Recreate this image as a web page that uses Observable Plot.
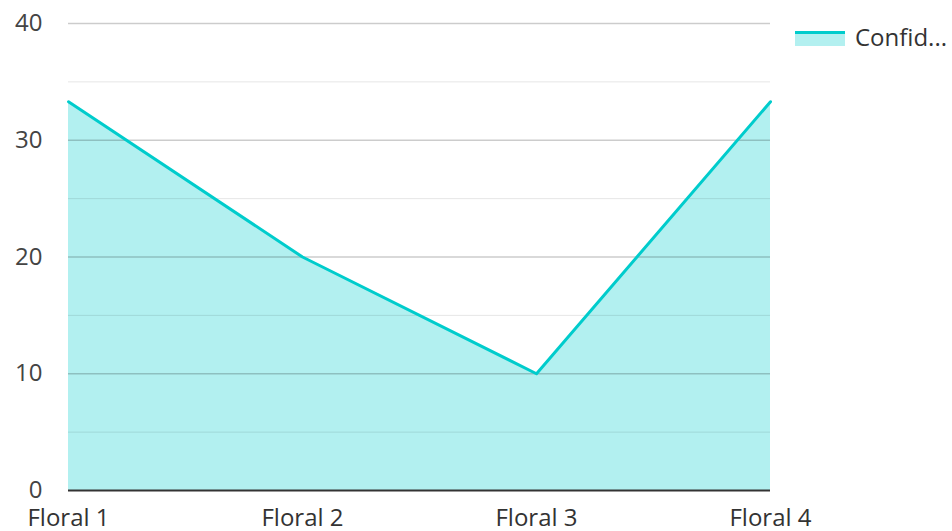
<!DOCTYPE html>
<html>
<head>
<meta charset="utf-8">
<script src="https://cdn.jsdelivr.net/npm/d3@7"></script>
<script src="https://cdn.jsdelivr.net/npm/@observablehq/plot@0.6"></script>
<style>
  body { margin: 0; background: #fff; font-family: "Open Sans", "Noto Sans", sans-serif; }
  #wrap { position: relative; width: 952px; height: 531px; }
  #legend { position: absolute; left: 795px; top: 20px; display: flex; align-items: center; font-size: 24px; color: #333; white-space: nowrap; }
  #legend .sw { width: 50px; height: 15px; background: #b3f0f0; border-top: 3px solid #00cccc; box-sizing: border-box; margin-right: 10px; margin-top: 4px; }
</style>
</head>
<body>
<div id="wrap"><div id="legend"><span class="sw"></span><span>Confid...</span></div></div>
<script>
const categories = ["Floral 1", "Floral 2", "Floral 3", "Floral 4"];
const values = [33.3, 20, 10, 33.3];
const seriesName = "Confid...";
const majorTicks = [0, 10, 20, 30, 40];
const minorTicks = [5, 15, 25, 35];

const data = categories.map((c, i) => ({ cat: c, v: values[i] }));

const chart = Plot.plot({
  width: 952,
  height: 531,
  marginLeft: 68,
  marginRight: 182,
  marginTop: 23,
  marginBottom: 41,
  style: { fontFamily: "'Open Sans', 'Noto Sans', sans-serif", fontSize: "24px", color: "#444", background: "#fff", overflow: "visible" },
  x: { type: "point", domain: categories, padding: 0, label: null },
  y: { domain: [0, 40], label: null },
  marks: [
    Plot.areaY(data, { x: "cat", y: "v", fill: "#00cccc", fillOpacity: 0.3 }),
    Plot.ruleY(minorTicks, { stroke: "#000", strokeOpacity: 0.1, strokeWidth: 1 }),
    Plot.ruleY(majorTicks.filter(d => d > 0), { stroke: "#000", strokeOpacity: 0.2, strokeWidth: 1.5 }),
    Plot.lineY(data, { x: "cat", y: "v", stroke: "#00cccc", strokeWidth: 3 }),
    Plot.ruleY([0], { stroke: "#333", strokeWidth: 2 }),
    Plot.axisY({ ticks: majorTicks, tickSize: 0, tickPadding: 26, fontSize: 24, fill: "#444" }),
    Plot.axisX({ tickSize: 0, tickPadding: 18, fontSize: 24, fill: "#333" })
  ]
});
document.getElementById("wrap").prepend(chart);
</script>
</body>
</html>
